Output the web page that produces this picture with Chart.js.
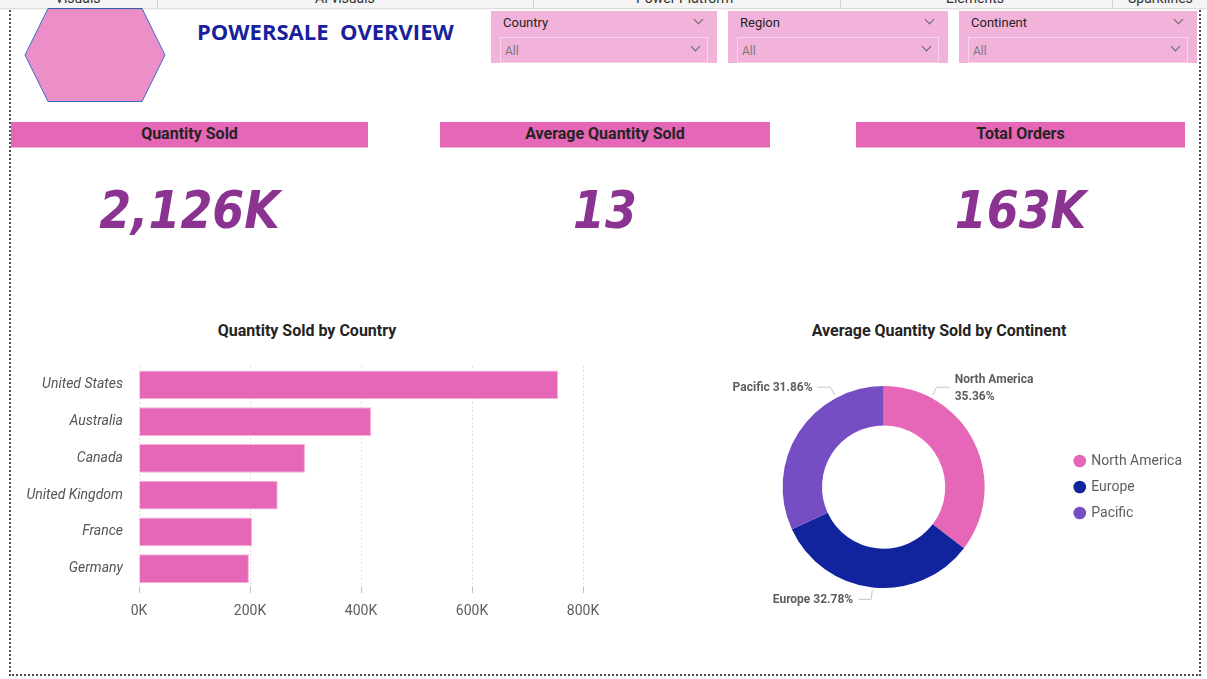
<!DOCTYPE html>
<html>
<head>
<meta charset="utf-8">
<script src="https://cdn.jsdelivr.net/npm/chart.js@4"></script>
<style>
  body { margin: 0; width: 1207px; height: 679px; background: #fff; position: relative; overflow: hidden; font-family: Roboto, "Open Sans", sans-serif; }
  .abs { position: absolute; }
  #ribbon { left: 0; top: 0; width: 1207px; height: 8px; background: #f4f4f4; overflow: hidden; box-shadow: 0 1px 2px rgba(0,0,0,0.18); z-index: 2; }
  #ribbon span { position: absolute; top: -10px; font-size: 14px; color: #333; white-space: nowrap; }
  #ribbon i { position: absolute; top: 0; width: 1px; height: 8px; background: #cfcfcf; }
  #frame { left: 9px; top: 10px; width: 1188px; height: 664px; border: 2px dotted #4e4e4e; border-top: none; }
  #hex { left: 24px; top: 8px; }
  #title { left: 197px; top: 16px; font-family: "Open Sans", sans-serif; font-weight: 700; font-size: 22px; color: #1a1f9c; white-space: pre; }
  .slicer { background: #f2b3da; height: 52px; top: 11px; }
  .slicer .lbl { position: absolute; left: 12px; top: 4px; font-size: 13px; color: #252423; }
  .slicer .box { position: absolute; left: 9px; right: 9px; top: 26px; height: 24px; border: 1px solid #f8d3ea; }
  .slicer .all { position: absolute; left: 4px; top: 6px; font-size: 12px; color: #7a7a7a; }
  .chev { position: absolute; width: 6px; height: 6px; border-right: 1px solid #666; border-bottom: 1px solid #666; transform: rotate(45deg); }
  .kpihead { top: 122px; height: 25px; background: #e667b7; text-align: center; font-weight: 700; font-size: 16px; line-height: 24px; color: #252423; box-shadow: 0 1px 0 #f4b6dc; }
  .kpival { top: 181px; text-align: center; font-family: "DejaVu Sans Condensed", "DejaVu Sans", sans-serif; font-weight: 700; font-style: italic; font-size: 51px; color: #8b3391; }
  .ctitle { top: 321px; font-weight: 700; font-size: 16px; color: #252423; text-align: center; }
</style>
</head>
<body>
<div id="ribbon" class="abs"></div>
<div id="frame" class="abs"></div>
<svg id="hex" class="abs" width="144" height="96">
  <polygon points="24,0.5 118,0.5 141,47 118,93.5 24,93.5 1,47" fill="#ec8ec8" stroke="#3a6fc4" stroke-width="1"/>
</svg>
<div id="title" class="abs">POWERSALE  OVERVIEW</div>
<div id="slicers"></div>
<div id="kpis"></div>
<div class="abs ctitle" style="left:107px;width:400px;">Quantity Sold by Country</div>
<div class="abs ctitle" style="left:739px;width:400px;">Average Quantity Sold by Continent</div>
<div class="abs" style="left:0;top:350px;width:620px;height:280px;"><canvas id="barChart"></canvas></div>
<div class="abs" style="left:690px;top:350px;width:545px;height:290px;"><canvas id="donutChart"></canvas></div>

<script>
// Dashboard data
const countries = ['United States', 'Australia', 'Canada', 'United Kingdom', 'France', 'Germany'];
const quantitySold = [755000, 418000, 299000, 250000, 204000, 198000];

const continents = ['North America', 'Europe', 'Pacific'];
const avgQtyShare = [35.36, 32.78, 31.86];

const kpiLabels = ['Quantity Sold', 'Average Quantity Sold', 'Total Orders'];
const kpiValues = ['2,126K', '13', '163K'];

const slicerLabels = ['Country', 'Region', 'Continent'];
const ribbonLabels = ['Visuals', 'AI visuals', 'Power Platform', 'Elements', 'Sparklines'];

// Top ribbon (cut off, only the bottom edge shows)
const ribbon = document.getElementById('ribbon');
const ribbonX = [55, 315, 636, 946, 1128];
ribbonLabels.forEach((t, i) => {
    const s = document.createElement('span');
    s.textContent = t;
    s.style.left = ribbonX[i] + 'px';
    ribbon.appendChild(s);
});
[157, 533, 840, 1112].forEach(x => {
    const d = document.createElement('i');
    d.style.left = x + 'px';
    ribbon.appendChild(d);
});

// Slicers
const slicerBoxes = [[491, 226], [728, 220], [959, 238]];
slicerLabels.forEach((t, i) => {
    const el = document.createElement('div');
    el.className = 'abs slicer';
    el.style.left = slicerBoxes[i][0] + 'px';
    el.style.width = slicerBoxes[i][1] + 'px';
    el.innerHTML = `<div class="lbl">${t}</div>
        <div class="chev" style="right:15px;top:5px;"></div>
        <div class="box"><div class="all">All</div><div class="chev" style="right:8px;top:5px;"></div></div>`;
    document.getElementById('slicers').appendChild(el);
});

// KPI cards
const kpiBoxes = [[11, 357], [440, 330], [856, 329]];
kpiLabels.forEach((t, i) => {
    const h = document.createElement('div');
    h.className = 'abs kpihead';
    h.style.left = kpiBoxes[i][0] + 'px';
    h.style.width = kpiBoxes[i][1] + 'px';
    h.textContent = t;
    const v = document.createElement('div');
    v.className = 'abs kpival';
    v.style.left = kpiBoxes[i][0] + 'px';
    v.style.width = kpiBoxes[i][1] + 'px';
    v.textContent = kpiValues[i];
    document.getElementById('kpis').appendChild(h);
    document.getElementById('kpis').appendChild(v);
});

// Bar chart: Quantity Sold by Country
new Chart(document.getElementById('barChart'), {
    type: 'bar',
    data: {
        labels: countries,
        datasets: [{
            data: quantitySold,
            backgroundColor: '#e667b7',
            borderColor: '#f5b0da',
            borderWidth: 1,
            barPercentage: 0.78,
            categoryPercentage: 1
        }]
    },
    options: {
        indexAxis: 'y',
        responsive: true,
        maintainAspectRatio: false,
        animation: false,
        layout: { padding: { top: 15, right: 37 } },
        plugins: { legend: { display: false }, tooltip: { enabled: false } },
        scales: {
            x: {
                min: 0,
                max: 800000,
                ticks: {
                    stepSize: 200000,
                    padding: 10,
                    color: '#605e5c',
                    font: { family: 'Roboto', size: 14 },
                    callback: v => (v / 1000) + 'K'
                },
                grid: { color: '#c4c4c4', lineWidth: 1, tickLength: 6, tickColor: '#c4c4c4' },
                border: { display: false, dash: [1, 3] },
                afterFit: s => { s.height = 43; }
            },
            y: {
                ticks: {
                    padding: 8,
                    color: '#555',
                    font: { family: 'Roboto', size: 14, style: 'italic' }
                },
                grid: { display: false },
                border: { display: false },
                afterFit: s => { s.width = 139; }
            }
        }
    }
});

// Leader-line labels for the donut
const donutLabels = {
    id: 'donutLabels',
    afterDraw(chart) {
        const ctx = chart.ctx;
        const arcs = chart.getDatasetMeta(0).data;
        const total = avgQtyShare.reduce((a, b) => a + b, 0);
        const legendLeft = chart.legend.left;
        ctx.save();
        ctx.font = 'bold 12px Roboto';
        ctx.fillStyle = '#605e5c';
        ctx.strokeStyle = '#c8c6c4';
        ctx.lineWidth = 1;
        arcs.forEach((arc, i) => {
            const {x, y, outerRadius, startAngle, endAngle} = arc.getProps(['x', 'y', 'outerRadius', 'startAngle', 'endAngle'], true);
            // angle from top, clockwise, kept within 28 deg of vertical
            let a = ((startAngle + endAngle) / 2 + Math.PI / 2) * 180 / Math.PI;
            a = (a + 360) % 360;
            if (a < 90) a = Math.min(a, 28);
            else if (a < 180) a = Math.max(a, 152);
            else if (a < 270) a = Math.min(a, 208);
            else a = Math.max(a, 332);
            const rad = a * Math.PI / 180;
            const sx = Math.sin(rad), sy = -Math.cos(rad);
            const p0 = [x + sx * (outerRadius + 3), y + sy * (outerRadius + 3)];
            const p1 = [x + sx * (outerRadius + 12), y + sy * (outerRadius + 12)];
            const dir = sx >= 0 ? 1 : -1;
            const p2 = [p1[0] + dir * 13, p1[1]];
            ctx.beginPath();
            ctx.moveTo(p0[0], p0[1]);
            ctx.lineTo(p1[0], p1[1]);
            ctx.lineTo(p2[0], p2[1]);
            ctx.stroke();
            const pct = (avgQtyShare[i] / total * 100).toFixed(2) + '%';
            const full = continents[i] + ' ' + pct;
            const tx = p2[0] + dir * 5;
            ctx.textAlign = dir > 0 ? 'left' : 'right';
            ctx.textBaseline = 'middle';
            if (dir > 0 && tx + ctx.measureText(full).width > legendLeft) {
                ctx.fillText(continents[i], tx, p2[1] - 7);
                ctx.fillText(pct, tx, p2[1] + 10);
            } else {
                ctx.fillText(full, tx, p2[1] + 1);
            }
        });
        ctx.restore();
    }
};

// Donut chart: Average Quantity Sold by Continent
new Chart(document.getElementById('donutChart'), {
    type: 'doughnut',
    data: {
        labels: continents,
        datasets: [{
            data: avgQtyShare,
            backgroundColor: ['#e667b7', '#12239e', '#744ec2'],
            borderWidth: 0
        }]
    },
    options: {
        responsive: true,
        maintainAspectRatio: false,
        animation: false,
        cutout: '61%',
        layout: { padding: { left: 14, right: 43, top: 36, bottom: 52 } },
        plugins: {
            tooltip: { enabled: false },
            legend: {
                position: 'right',
                align: 'center',
                labels: {
                    usePointStyle: true,
                    pointStyle: 'circle',
                    boxWidth: 9,
                    boxHeight: 9,
                    padding: 12,
                    color: '#605e5c',
                    font: { family: 'Roboto', size: 14 }
                }
            }
        }
    },
    plugins: [donutLabels]
});
</script>
</body>
</html>
